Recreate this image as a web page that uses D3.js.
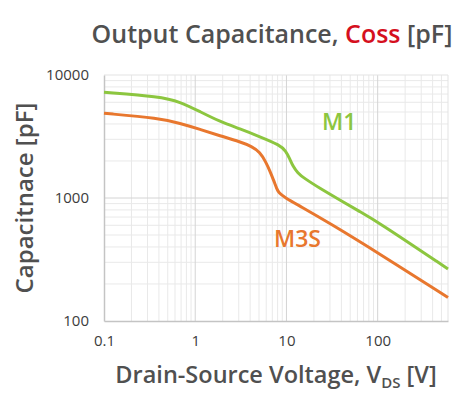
<!DOCTYPE html>
<html>
<head>
<meta charset="utf-8">
<script src="https://cdn.jsdelivr.net/npm/d3@7"></script>
<style>
  body { margin: 0; background: #fff; }
  svg { display: block; font-family: "Open Sans", "Noto Sans", sans-serif; }
</style>
</head>
<body>
<svg id="chart" width="474" height="399"></svg>
<script>
// values (log-log)
var m1_vds  = [0.1, 0.41, 0.68, 1.13, 1.87, 3.09, 5.11, 8.47, 9.85, 10.9, 11.75, 13.3, 15.5, 23.2, 38.5, 63.7, 100, 590];
var m1_coss = [7230, 6665, 6066, 5030, 4170, 3650, 3150, 2697, 2410, 2075, 1820, 1597, 1454, 1199, 963, 775, 641, 265];

var m3s_vds  = [0.1, 0.41, 0.68, 1.13, 1.87, 3.09, 4.18, 5.11, 5.95, 6.58, 7.28, 7.85, 8.26, 9.6, 14.0, 29.9, 100, 590];
var m3s_coss = [4884, 4446, 4048, 3618, 3200, 2869, 2623, 2366, 1962, 1658, 1375, 1184, 1098, 1009, 861, 623, 360, 155];

var x_ticks = [0.1, 1, 10, 100];
var y_ticks = [100, 1000, 10000];

var GREEN = '#8cc63f';
var ORANGE = '#e8772e';
var TEXT = '#505050';

var svg = d3.select('#chart');
var plot = { left: 104, right: 448, top: 75, bottom: 321 };

var x = d3.scaleLog().domain([0.1, 590]).range([plot.left, plot.right]);
var y = d3.scaleLog().domain([100, 10000]).range([plot.bottom, plot.top]);

// minor grid: 2..9 in each decade
var minorX = [];
[0.1, 1, 10, 100].forEach(function (d) {
    for (var k = 2; k <= 9; k++) {
        if (d * k <= 590) minorX.push(d * k);
    }
});
var minorY = [];
[100, 1000].forEach(function (d) {
    for (var k = 2; k <= 9; k++) minorY.push(d * k);
});

var grid = svg.append('g');
grid.selectAll('.vx').data(minorX).enter().append('line')
    .attr('x1', d => x(d)).attr('x2', d => x(d))
    .attr('y1', plot.top).attr('y2', plot.bottom)
    .attr('stroke', '#e9e9e9').attr('stroke-width', 1);
grid.selectAll('.hy').data(minorY).enter().append('line')
    .attr('y1', d => y(d)).attr('y2', d => y(d))
    .attr('x1', plot.left).attr('x2', plot.right)
    .attr('stroke', '#e9e9e9').attr('stroke-width', 1);
grid.selectAll('.vmaj').data(x_ticks.slice(1)).enter().append('line')
    .attr('x1', d => x(d)).attr('x2', d => x(d))
    .attr('y1', plot.top).attr('y2', plot.bottom)
    .attr('stroke', '#d4d4d4').attr('stroke-width', 1);
grid.selectAll('.hmaj').data([1000]).enter().append('line')
    .attr('y1', d => y(d)).attr('y2', d => y(d))
    .attr('x1', plot.left).attr('x2', plot.right)
    .attr('stroke', '#d4d4d4').attr('stroke-width', 1);

// frame
svg.append('line').attr('x1', plot.left).attr('x2', plot.right).attr('y1', plot.top).attr('y2', plot.top)
    .attr('stroke', '#e3e3e3');
svg.append('line').attr('x1', plot.right).attr('x2', plot.right).attr('y1', plot.top).attr('y2', plot.bottom)
    .attr('stroke', '#e3e3e3');

// axes
var xAxis = d3.axisBottom(x).tickValues(x_ticks).tickFormat(d => String(d)).tickSize(0).tickPadding(14);
var yAxis = d3.axisLeft(y).tickValues(y_ticks).tickFormat(d => String(d)).tickSize(0).tickPadding(15);

var gx = svg.append('g').attr('transform', 'translate(0,' + plot.bottom + ')').call(xAxis);
var gy = svg.append('g').attr('transform', 'translate(' + plot.left + ',0)').call(yAxis);
[gx, gy].forEach(function (g) {
    g.select('.domain').attr('stroke', '#c4c4c4').attr('stroke-width', 1.5);
    g.selectAll('text').attr('fill', '#3c3c3c').style('font-size', '15px')
        .style('font-family', '"Open Sans", sans-serif');
});

// lines, smoothed through the read points
var line = d3.line()
    .x(d => x(d[0]))
    .y(d => y(d[1]))
    .curve(d3.curveBasis);

svg.append('path')
    .datum(d3.zip(m1_vds, m1_coss))
    .attr('fill', 'none').attr('stroke', GREEN).attr('stroke-width', 3)
    .attr('stroke-linejoin', 'round')
    .attr('d', line);
svg.append('path')
    .datum(d3.zip(m3s_vds, m3s_coss))
    .attr('fill', 'none').attr('stroke', ORANGE).attr('stroke-width', 3)
    .attr('stroke-linejoin', 'round')
    .attr('d', line);

// series labels
svg.append('text').attr('x', 322).attr('y', 130).text('M1')
    .attr('fill', GREEN).style('font-size', '23px').style('font-weight', 600);
svg.append('text').attr('x', 274).attr('y', 247).text('M3S')
    .attr('fill', ORANGE).style('font-size', '23px').style('font-weight', 600);

// title
var title = svg.append('text').attr('x', 272).attr('y', 43).attr('text-anchor', 'middle')
    .style('font-size', '25px').style('font-weight', 600).attr('fill', TEXT);
title.append('tspan').text('Output Capacitance, ');
title.append('tspan').text('Coss').attr('fill', '#d5101e');
title.append('tspan').text(' [pF]');

// axis titles
var xt = svg.append('text').attr('x', 276).attr('y', 383).attr('text-anchor', 'middle')
    .style('font-size', '23.5px').style('font-weight', 600).attr('fill', TEXT);
xt.append('tspan').text('Drain-Source Voltage, V');
xt.append('tspan').text('DS').style('font-size', '15px').attr('dy', 5);
xt.append('tspan').text(' [V]').attr('dy', -5);

svg.append('text')
    .attr('transform', 'translate(33,198) rotate(-90)')
    .attr('text-anchor', 'middle')
    .style('font-size', '24px').style('font-weight', 600).attr('fill', TEXT)
    .text('Capacitnace [pF]');
</script>
</body>
</html>
